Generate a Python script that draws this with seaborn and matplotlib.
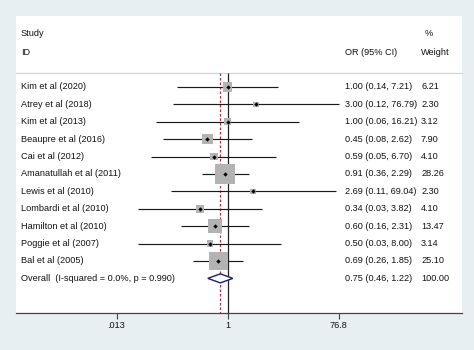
import numpy as np
import pandas as pd
import matplotlib
matplotlib.use("Agg")
import matplotlib.pyplot as plt
import matplotlib.transforms as mtransforms
from matplotlib.patches import Polygon
import seaborn as sns

# ---------- Data ----------
studies = ["Kim et al (2020)", "Atrey et al (2018)", "Kim et al (2013)", "Beaupre et al (2016)",
           "Cai et al (2012)", "Amanatullah et al (2011)", "Lewis et al (2010)", "Lombardi et al (2010)",
           "Hamilton et al (2010)", "Poggie et al (2007)", "Bal et al (2005)"]
odds = [1.00, 3.00, 1.00, 0.45, 0.59, 0.91, 2.69, 0.34, 0.60, 0.50, 0.69]
ci_low = [0.14, 0.12, 0.06, 0.08, 0.05, 0.36, 0.11, 0.03, 0.16, 0.03, 0.26]
ci_high = [7.21, 76.79, 16.21, 2.62, 6.70, 2.29, 69.04, 3.82, 2.31, 8.00, 1.85]
weights = [6.21, 2.30, 3.12, 7.90, 4.10, 28.26, 2.30, 4.10, 13.47, 3.14, 25.10]

overall_label = "Overall  (I-squared = 0.0%, p = 0.990)"
overall_or, overall_lo, overall_hi, overall_w = 0.75, 0.46, 1.22, 100.00

tick_vals = [0.013, 1, 76.8]
tick_labels = [".013", "1", "76.8"]

df = pd.DataFrame({"study": studies, "OR": odds, "lo": ci_low, "hi": ci_high, "w": weights})
df["row"] = np.arange(len(df))
overall_row = len(df)

# ---------- Style ----------
sns.set_theme(style="white")
plt.rcParams["font.family"] = ["Liberation Sans", "DejaVu Sans"]
BG = "#e8eff2"
FS = 6.6

fig = plt.figure(figsize=(4.74, 3.5), dpi=100, facecolor=BG)
ax = fig.add_axes([16 / 474, 37 / 350, 446 / 474, 297 / 350])
ax.set_facecolor("white")
ax.set_xscale("log")
ax.set_xlim(np.exp(-8.27), np.exp(9.152))
ax.set_ylim(12.99, -4.08)

# reference lines
sep_y = -0.80
ax.plot([0, 1], [sep_y, sep_y], transform=mtransforms.blended_transform_factory(ax.transAxes, ax.transData),
        color="#d4d8da", lw=1.0, clip_on=False)
ax.vlines(1, sep_y, 12.99, color="#222222", lw=0.9)
ax.vlines(overall_or, sep_y, 12.99, color="#a03048", lw=0.9, linestyles=(0, (2, 1.6)))

# CI lines
ax.hlines(df["row"], df["lo"], df["hi"], color="#1a1a1a", lw=0.85, zorder=2)

# weight boxes (area proportional to weight)
k = 7.33
sns.scatterplot(data=df, x="OR", y="row", size="w", sizes=(k * min(weights), k * max(weights)),
                size_norm=(min(weights), max(weights)), marker="s", color="#b3b3b3",
                linewidth=0, legend=False, ax=ax, zorder=3)
# point estimates
sns.scatterplot(data=df, x="OR", y="row", marker="D", s=5, color="black", linewidth=0,
                legend=False, ax=ax, zorder=4)

# overall diamond
diamond = Polygon([[overall_lo, overall_row], [overall_or, overall_row - 0.26],
                   [overall_hi, overall_row], [overall_or, overall_row + 0.26]],
                  closed=True, facecolor="white", edgecolor="#1c1c78", lw=1.0, zorder=5)
ax.add_patch(diamond)

# ---------- Text columns ----------
tr = mtransforms.blended_transform_factory(ax.transAxes, ax.transData)
x_lab, x_ci, x_w = (21 - 16) / 446, (345 - 16) / 446, (421 - 16) / 446

ax.text(x_lab, -3.05, "Study", transform=tr, fontsize=FS, va="center", color="#111111")
ax.text(x_lab, -2.01, "ID", transform=tr, fontsize=FS, va="center", color="#111111")
ax.text(x_ci, -2.01, "OR (95% CI)", transform=tr, fontsize=FS, va="center", color="#111111")
ax.text((425 - 16) / 446, -3.05, "%", transform=tr, fontsize=FS, va="center", color="#111111")
ax.text(x_w, -2.01, "Weight", transform=tr, fontsize=FS, va="center", color="#111111")

for _, r in df.iterrows():
    ax.text(x_lab, r["row"], r["study"], transform=tr, fontsize=FS, va="center", color="#111111")
    ax.text(x_ci, r["row"], f"{r['OR']:.2f} ({r['lo']:.2f}, {r['hi']:.2f})", transform=tr,
            fontsize=FS, va="center", color="#111111")
    ax.text(x_w, r["row"], f"{r['w']:.2f}", transform=tr, fontsize=FS, va="center", color="#111111")

ax.text(x_lab, overall_row, overall_label, transform=tr, fontsize=FS, va="center", color="#111111")
ax.text(x_ci, overall_row, f"{overall_or:.2f} ({overall_lo:.2f}, {overall_hi:.2f})", transform=tr,
        fontsize=FS, va="center", color="#111111")
ax.text(x_w, overall_row, f"{overall_w:.2f}", transform=tr, fontsize=FS, va="center", color="#111111")

# ---------- Axes ----------
for side in ["top", "left", "right"]:
    ax.spines[side].set_visible(False)
ax.spines["bottom"].set_color("#444444")
ax.spines["bottom"].set_linewidth(0.9)
ax.set_xticks(tick_vals)
ax.set_xticklabels(tick_labels)
ax.xaxis.set_minor_locator(matplotlib.ticker.NullLocator())
ax.tick_params(axis="x", bottom=True, direction="out", length=4, width=0.8, color="#444444",
               labelsize=FS, pad=2, labelcolor="#111111")
ax.set_yticks([])
ax.set_xlabel("")
ax.set_ylabel("")

fig.savefig("out.png", dpi=100, facecolor=BG)
